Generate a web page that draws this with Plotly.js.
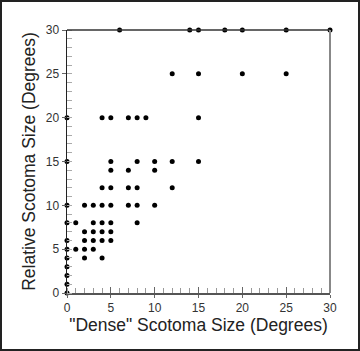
<!DOCTYPE html>
<html>
<head>
<meta charset="utf-8">
<script src="https://cdn.plot.ly/plotly-3.0.1.min.js"></script>
<style>
html,body{margin:0;padding:0;background:#fff;}
#wrap{position:relative;width:360px;height:351px;}
#plot{width:360px;height:351px;}
#frame{position:absolute;left:0;top:0;width:360px;height:351px;box-sizing:border-box;border:2px solid #222;pointer-events:none;}
</style>
</head>
<body>
<div id="wrap"><div id="plot"></div><div id="frame"></div></div>
<script>
// "Dense" scotoma size (x) vs relative scotoma size (y), degrees
const denseSize = [
  6,14,15,18,20,25,30,
  12,15,20,25,
  0,4,5,7,8,9,15,
  0,5,8,10,12,15,
  5,7,10,
  4,5,7,8,12,
  0,2,3,4,5,7,8,10,
  0,1,3,4,5,8,
  2,3,4,5,
  0,2,3,4,5,
  0,1,2,3,
  0,2,4,
  0,0,0,0
];
const relativeSize = [
  30,30,30,30,30,30,30,
  25,25,25,25,
  20,20,20,20,20,20,20,
  15,15,15,15,15,15,
  14,14,14,
  12,12,12,12,12,
  10,10,10,10,10,10,10,10,
  8,8,8,8,8,8,
  7,7,7,7,
  6,6,6,6,6,
  5,5,5,5,
  4,4,4,
  3,2,1,0
];
const xTitle = '"Dense" Scotoma Size (Degrees)';
const yTitle = 'Relative Scotoma Size (Degrees)';

const trace = {
  x: denseSize, y: relativeSize, type: 'scatter', mode: 'markers',
  marker: {color: '#000', size: 5},
  cliponaxis: false, hoverinfo: 'none', showlegend: false
};
const font = {family: 'Liberation Sans, Arial, sans-serif', color: '#222'};
const layout = {
  width: 360, height: 351,
  margin: {l: 67, r: 30, t: 30, b: 58},
  paper_bgcolor: '#fff', plot_bgcolor: '#fff',
  font: font,
  xaxis: {
    range: [0, 30], dtick: 5, tick0: 0, showgrid: false, zeroline: false,
    showline: true, linecolor: '#555', linewidth: 1.5,
    ticks: 'outside', ticklen: 3, tickcolor: '#666', tickwidth: 1,
    tickfont: {size: 12, color: '#333', family: font.family},
    minor: {dtick: 1, ticks: 'inside', ticklen: 5, tickcolor: '#999', tickwidth: 1, showgrid: false},
    title: {text: xTitle, font: {size: 17.5, color: '#222', family: font.family}, standoff: 3}
  },
  xaxis2: {
    overlaying: 'x', matches: 'x', anchor: 'y', side: 'bottom',
    range: [0, 30], dtick: 5, tick0: 0, showgrid: false, zeroline: false, showline: false,
    ticks: 'inside', ticklen: 6, tickcolor: '#666', tickwidth: 1, showticklabels: false
  },
  yaxis: {
    range: [0, 30], dtick: 5, tick0: 0, showgrid: false, zeroline: false,
    showline: true, linecolor: '#222', linewidth: 1.5,
    ticks: 'outside', ticklen: 4, tickcolor: '#666', tickwidth: 1,
    tickfont: {size: 12, color: '#333', family: font.family},
    minor: {dtick: 1, ticks: 'inside', ticklen: 5, tickcolor: '#aaa', tickwidth: 1, showgrid: false},
    title: {text: yTitle, font: {size: 17.5, color: '#222', family: font.family}, standoff: 5}
  },
  shapes: [
    {type: 'line', xref: 'paper', yref: 'paper', x0: 0, x1: 1, y0: 1, y1: 1, line: {color: '#333', width: 1.5}},
    {type: 'line', xref: 'paper', yref: 'paper', x0: 1, x1: 1, y0: 0, y1: 1, line: {color: '#888', width: 2}}
  ]
};
const dummy = {x: [0], y: [0], xaxis: 'x2', yaxis: 'y', type: 'scatter', mode: 'markers', marker: {opacity: 0}, hoverinfo: 'none', showlegend: false};
Plotly.newPlot('plot', [dummy, trace], layout, {staticPlot: true});
</script>
</body>
</html>
